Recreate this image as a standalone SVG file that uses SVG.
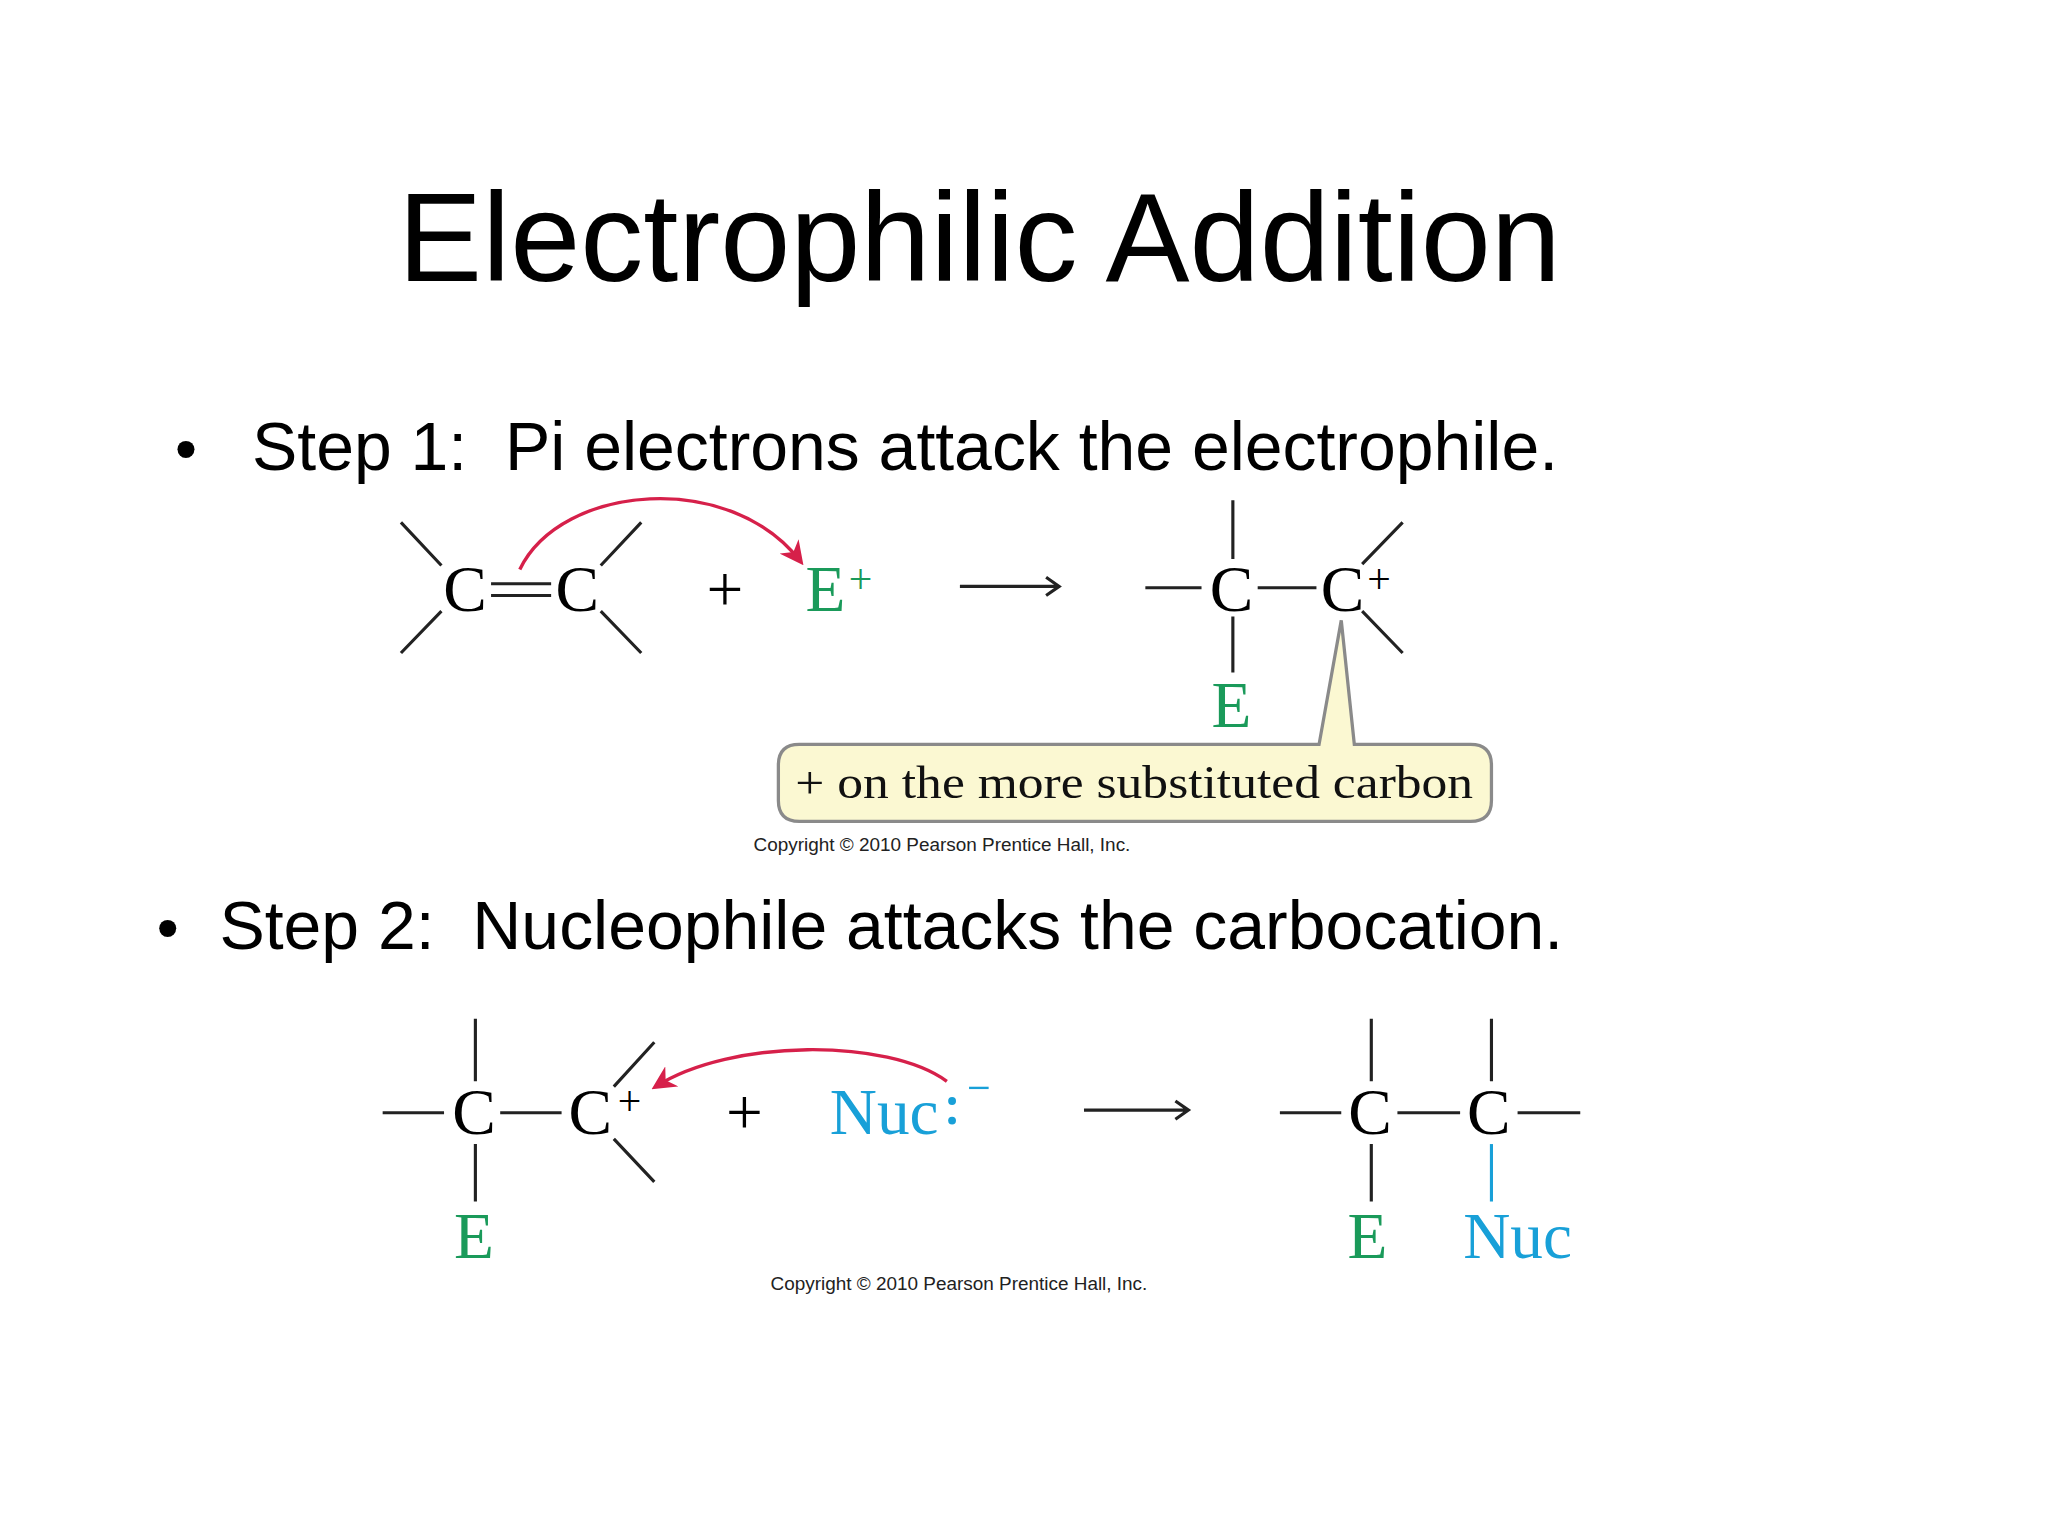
<svg xmlns="http://www.w3.org/2000/svg" width="2048" height="1536" viewBox="0 0 2048 1536">
<defs>
<style>
.h{font-family:"Liberation Sans",Arial,sans-serif;fill:#000;white-space:pre}
.s{font-family:"Liberation Serif","Times New Roman",serif;font-size:50px;text-anchor:middle}
.sup{font-family:"Liberation Serif","Times New Roman",serif;font-size:32px;text-anchor:middle}
.b{stroke:#222;stroke-width:2.4;fill:none}
.g{fill:#1a9a5a}.n{fill:#18a0d8}
.r{stroke:#d6204a;stroke-width:2.6;fill:none}
.cp{font-family:"Liberation Sans",Arial,sans-serif;font-size:14.5px;fill:#222}
</style>
<marker id="ah" viewBox="0 0 10 10" refX="8" refY="5" markerWidth="7" markerHeight="7" orient="auto"><path d="M0,0 L10,5 L0,10 L3,5z" fill="#d6204a"/></marker>
</defs>
<rect width="2048" height="1536" fill="#fff"/>
<g transform="scale(1.306)">
<g id="title"><text class="h" x="750" y="215" font-size="96.5" text-anchor="middle">Electrophilic Addition</text></g>
<g id="bullet1"><text class="h" x="134" y="360" font-size="48">•</text><text class="h" x="193" y="360" font-size="52" xml:space="preserve">Step 1:  Pi electrons attack the electrophile.</text></g>
<g id="bullet2"><text class="h" x="120" y="727" font-size="48">•</text><text class="h" x="168" y="727" font-size="52" xml:space="preserve">Step 2:  Nucleophile attacks the carbocation.</text></g>

<g id="alkene">
<text class="s" x="356" y="468">C</text><text class="s" x="442" y="468">C</text>
<path class="b" d="M376,447H422M376,456H422M307,400L338,433M307,500L338,468M460,433L491,400M460,468L491,500"/>
</g>
<g id="plus1"><text class="s" x="555" y="468">+</text></g>
<g id="eplus"><text class="s g" x="632" y="468">E</text><text class="sup g" x="659" y="454">+</text></g>
<g id="arrow1"><path class="b" d="M735,449H811M801,442L811,449L801,456"/></g>
<g id="carbocation1">
<text class="s" x="943" y="468">C</text><text class="s" x="1028" y="468">C</text><text class="sup" x="1056" y="454">+</text>
<path class="b" d="M877,450H920M963,450H1008M944,383V428M944,472V515M1043,432L1074,400M1043,468L1074,500"/>
<text class="s g" x="943" y="557">E</text>
</g>
<g id="callout">
<path d="M612,570H1010L1027,475L1037,570H1126Q1142,570 1142,586V613Q1142,629 1126,629H612Q596,629 596,613V586Q596,570 612,570Z" fill="#fbf8d2" stroke="#8a8a8a" stroke-width="2.5"/>
<text x="609" y="611" font-family="Liberation Serif,serif" font-size="36" fill="#111" textLength="519" lengthAdjust="spacingAndGlyphs">+ on the more substituted carbon</text>
</g>
<text class="cp" x="577" y="652">Copyright © 2010 Pearson Prentice Hall, Inc.</text>

<g id="carbocation2">
<text class="s" x="363" y="868">C</text><text class="s" x="452" y="868">C</text><text class="sup" x="482" y="854">+</text>
<path class="b" d="M293,852H340M383,852H430M364,780V828M364,876V920M470,832L501,798M470,872L501,905"/>
<text class="s g" x="363" y="963">E</text>
</g>
<g id="plus2"><text class="s" x="570" y="868">+</text></g>
<g id="nuc"><text class="s n" x="677" y="868">Nuc</text><circle cx="729" cy="843" r="3" fill="#18a0d8"/><circle cx="729" cy="858" r="3" fill="#18a0d8"/><path d="M742,833H757" stroke="#18a0d8" stroke-width="1.8"/></g>
<g id="arrow2"><path class="b" d="M830,850H910M900,843L910,850L900,857"/></g>
<g id="product">
<text class="s" x="1049" y="868">C</text><text class="s" x="1140" y="868">C</text>
<path class="b" d="M980,852H1027M1070,852H1118M1162,852H1210M1050,780V828M1142,780V828M1050,876V920"/>
<path d="M1142,876V920" stroke="#18a0d8" stroke-width="2.4"/>
<text class="s g" x="1047" y="963">E</text><text class="s n" x="1162" y="963">Nuc</text>
</g>
<text class="cp" x="590" y="988">Copyright © 2010 Pearson Prentice Hall, Inc.</text>
<g id="connectors">
<path class="r" d="M398,436C430,370 560,360 613,430" marker-end="url(#ah)"/>
<path class="r" d="M725,828C680,795 560,795 502,832" marker-end="url(#ah)"/>
</g>
</g>
</svg>
